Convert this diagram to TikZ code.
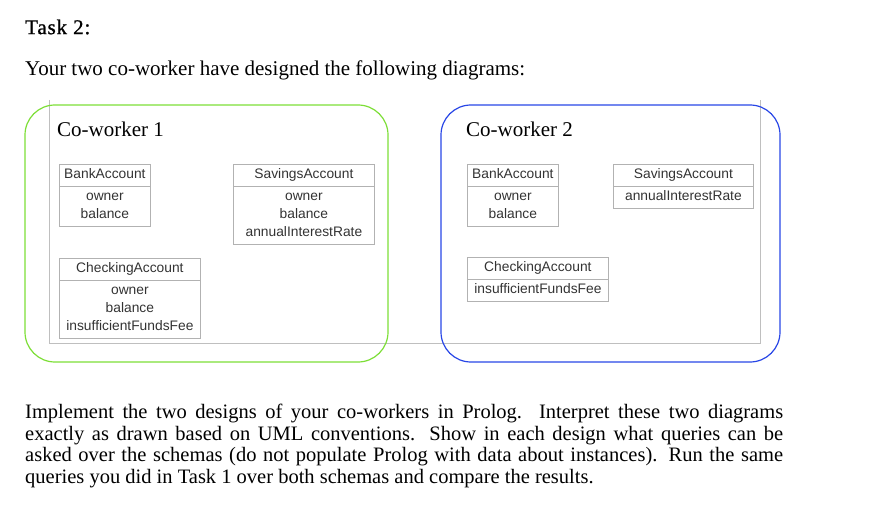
\documentclass[tikz,border=0pt]{standalone}
\usepackage{fontspec}
\setmainfont{Liberation Serif}
\newfontfamily\umlfont{Liberation Sans}
\usetikzlibrary{shapes.multipart}
\definecolor{designgreen}{RGB}{125,222,55}
\definecolor{designblue}{RGB}{40,70,230}

\begin{document}
\begin{tikzpicture}[x=1pt, y=-1pt,
  cls/.style={draw=black!30, rectangle split, rectangle split parts=2,
    font=\umlfont\fontsize{13.8}{18}\selectfont, text=black!80, align=center,
    inner xsep=1.5pt, inner ysep=1.5pt, anchor=north west, line width=0.8pt},
  panel/.style={rounded corners=30pt, line width=1.2pt},
  serif/.style={anchor=west, font=\fontsize{21}{24}\selectfont}]
  \useasboundingbox (0,0) rectangle (870,505);

  \node[serif, inner sep=0pt, font=\fontsize{21}{24}\selectfont\addfontfeatures{FakeBold=1,LetterSpace=4}] (task) at (25,27) {Task 2:};
  \node[serif, inner sep=0pt] (intro) at (25,70)
    {Your two co-worker have designed the following diagrams:};

  % frame behind the two designs
  \draw[black!25] (49,100) |- (760,343) -- (760,100);

  \draw[panel, draw=designgreen] (25,105) rectangle (388,362);
  \draw[panel, draw=designblue] (441,105) rectangle (780,362);

  \node[serif, inner sep=0pt] (cw1) at (57,129) {Co-worker 1};
  \node[serif, inner sep=0pt] (cw2) at (466,129) {Co-worker 2};

  % design 1
  \node[cls, text width=88pt] (bank1) at (59,164)
    {\strut BankAccount\nodepart{two}\strut owner\\\strut balance};
  \node[cls, text width=138pt] (sav1) at (233,164)
    {\strut SavingsAccount\nodepart{two}\strut owner\\\strut balance\\\strut annualInterestRate};
  \node[cls, text width=138pt] (chk1) at (59,258)
    {\strut CheckingAccount\nodepart{two}\strut owner\\\strut balance\\\strut insufficientFundsFee};

  % design 2
  \node[cls, text width=88pt] (bank2) at (467,164)
    {\strut BankAccount\nodepart{two}\strut owner\\\strut balance};
  \node[cls, text width=137pt] (sav2) at (613,164)
    {\strut SavingsAccount\nodepart{two}\strut annualInterestRate};
  \node[cls, text width=138pt] (chk2) at (467,257)
    {\strut CheckingAccount\nodepart{two}\strut insufficientFundsFee};

  \node[anchor=north west, text width=758pt, inner sep=0pt, align=justify,
    font=\fontsize{20.5}{21.6}\selectfont] (text) at (25,404)
    {Implement the two designs of your co-workers in Prolog. Interpret these two diagrams\linebreak
     exactly as drawn based on UML conventions. Show in each design what queries can be\linebreak
     asked over the schemas (do not populate Prolog with data about instances). Run the same\linebreak
     queries you did in Task 1 over both schemas and compare the results.};
\end{tikzpicture}
\end{document}
